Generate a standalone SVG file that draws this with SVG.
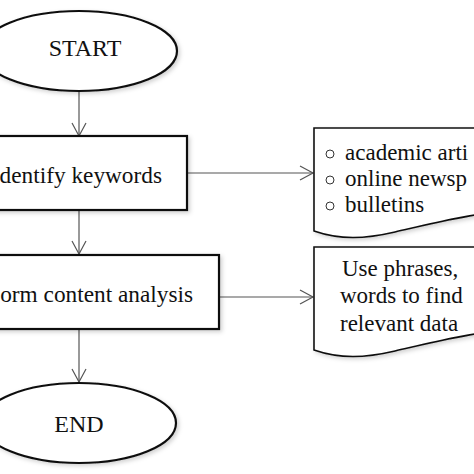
<svg xmlns="http://www.w3.org/2000/svg" width="474" height="474" viewBox="0 0 474 474">
<style>
.shape{fill:#fff;stroke:#111;stroke-width:2.2;filter:url(#sh)}
.doc{fill:#fff;stroke:#111;stroke-width:1.6;filter:url(#sh)}
.t{font-family:"Liberation Serif","Times New Roman",serif;fill:#111}
.big{font-size:24px}
.mid{font-size:23.3px}
.sm{font-size:23px}
.con{fill:none;stroke:#555;stroke-width:1.2}
</style>
<defs>
<filter id="sh" x="-20%" y="-20%" width="140%" height="140%">
<feDropShadow dx="2" dy="2" stdDeviation="2" flood-color="#000" flood-opacity="0.18"/>
</filter>
<marker id="v" viewBox="0 0 16 16" refX="14" refY="8" markerWidth="16" markerHeight="16" markerUnits="userSpaceOnUse" orient="auto">
<path d="M1,1 L14,8 L1,15" fill="none" stroke="#555" stroke-width="1.2"/>
</marker>
</defs>
<g id="connectors">
<line class="con" x1="79" y1="91" x2="79" y2="136" marker-end="url(#v)"/>
<line class="con" x1="79" y1="210" x2="79" y2="254" marker-end="url(#v)"/>
<line class="con" x1="79" y1="329" x2="79" y2="382" marker-end="url(#v)"/>
<line class="con" x1="187" y1="173" x2="313" y2="173" marker-end="url(#v)"/>
<line class="con" x1="219" y1="297" x2="313" y2="297" marker-end="url(#v)"/>
</g>
<g id="start">
<ellipse class="shape" cx="79" cy="51" rx="98" ry="40"/>
<text class="t big" x="85" y="56" text-anchor="middle">START</text>
</g>
<g id="identify">
<rect class="shape" x="-38" y="136" width="225" height="74"/>
<text class="t mid" x="162" y="183" text-anchor="end">dentify keywords</text>
</g>
<g id="perform">
<rect class="shape" x="-71" y="255" width="290" height="74"/>
<text class="t mid" x="193" y="302" text-anchor="end">orm content analysis</text>
</g>
<g id="end">
<ellipse class="shape" cx="79" cy="423" rx="97" ry="40"/>
<text class="t big" x="79" y="432" text-anchor="middle">END</text>
</g>
<g id="sources">
<path class="doc" d="M314,128 H500 V212 C470,214 430,224 395,232 C365,239 340,240 314,231 Z"/>
<circle cx="330" cy="154" r="4" fill="none" stroke="#333" stroke-width="1"/>
<circle cx="330" cy="180" r="4" fill="none" stroke="#333" stroke-width="1"/>
<circle cx="330" cy="206" r="4" fill="none" stroke="#333" stroke-width="1"/>
<text class="t sm" x="345" y="160">academic arti</text>
<text class="t sm" x="345" y="186">online newsp</text>
<text class="t sm" x="345" y="212">bulletins</text>
</g>
<g id="phrases">
<path class="doc" d="M314,247 H500 V331 C470,333 430,343 395,351 C365,358 340,359 314,350 Z"/>
<text class="t sm" x="342" y="276">Use phrases,</text>
<text class="t sm" x="340" y="303">words to find</text>
<text class="t sm" x="340" y="331">relevant data</text>
</g>
</svg>
